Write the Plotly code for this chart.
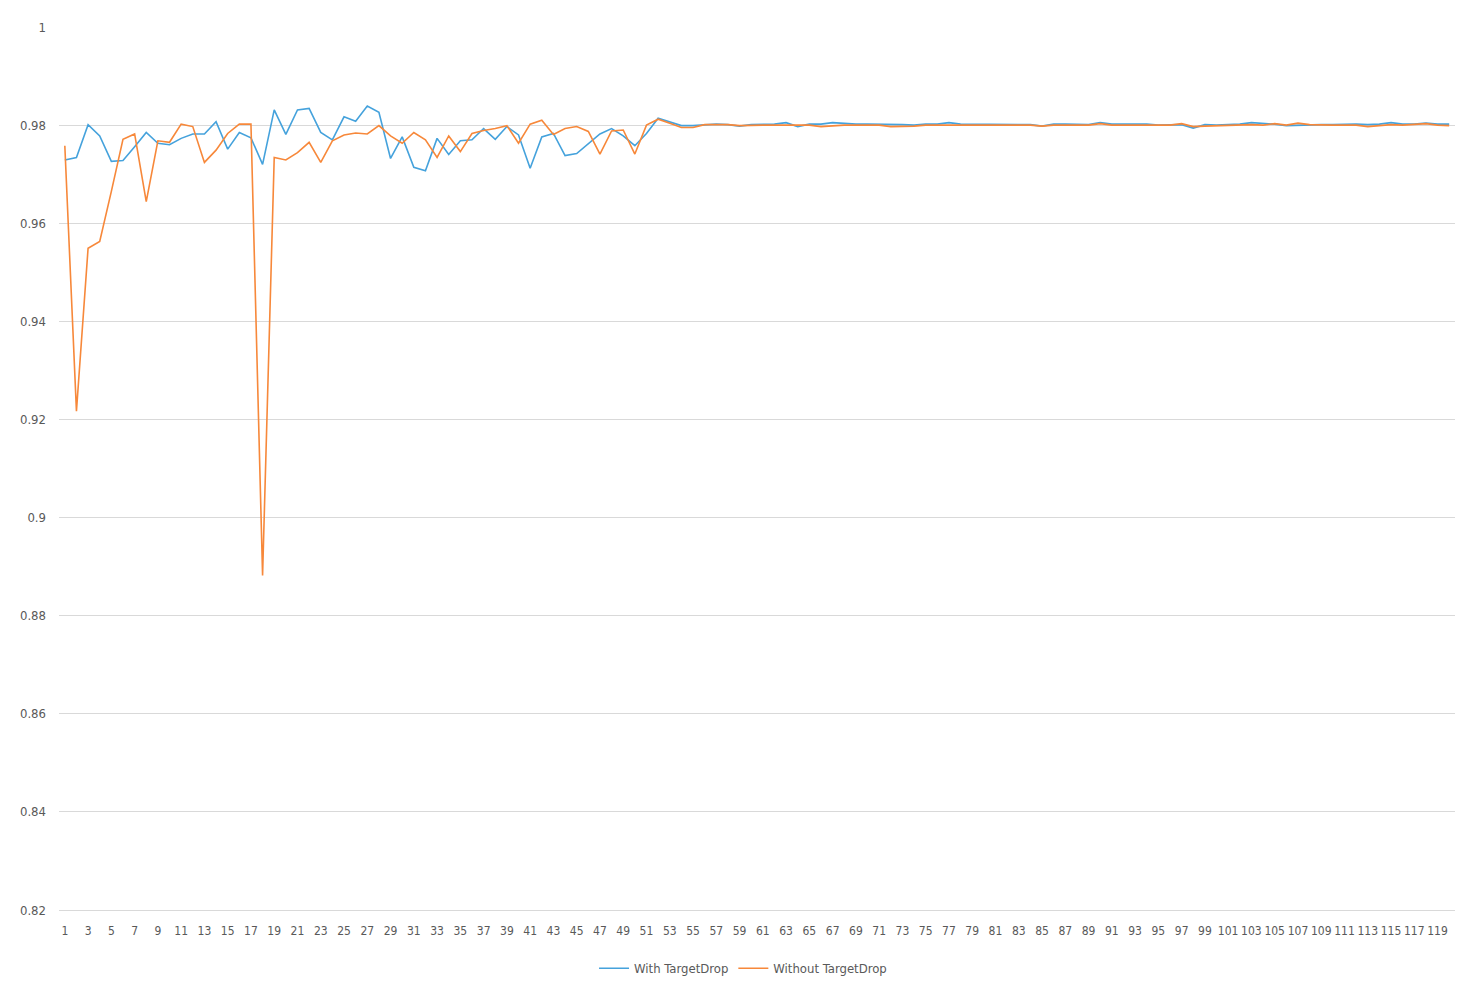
import plotly.graph_objects as go

# epochs 1..120
epochs = list(range(1, 121))

with_targetdrop = [
    0.9729, 0.9734, 0.9801, 0.9778, 0.9726, 0.9728, 0.9756, 0.9785, 0.9763, 0.9760,
    0.9773, 0.9782, 0.9782, 0.9807, 0.9751, 0.9785, 0.9774, 0.9720, 0.9831, 0.9781,
    0.9831, 0.9834, 0.9785, 0.9770, 0.9817, 0.9808, 0.9839, 0.9826, 0.9732, 0.9776,
    0.9714, 0.9707, 0.9773, 0.9740, 0.9768, 0.9770, 0.9793, 0.9771, 0.9797, 0.9780,
    0.9712, 0.9776, 0.9783, 0.9738, 0.9742, 0.9763, 0.9782, 0.9793, 0.9778, 0.9758,
    0.9783, 0.9814, 0.9806, 0.9799, 0.9799, 0.9801, 0.9802, 0.9801, 0.9798, 0.9801,
    0.9802, 0.9802, 0.9805, 0.9797, 0.9802, 0.9802, 0.9805, 0.9803, 0.9802, 0.9802,
    0.9802, 0.9802, 0.9801, 0.9800, 0.9802, 0.9802, 0.9805, 0.9802, 0.9802, 0.9801,
    0.9802, 0.9802, 0.9802, 0.9801, 0.9798, 0.9802, 0.9802, 0.9802, 0.9801, 0.9805,
    0.9802, 0.9802, 0.9802, 0.9802, 0.9800, 0.9800, 0.9801, 0.9794, 0.9801, 0.9800,
    0.9801, 0.9802, 0.9805, 0.9804, 0.9802, 0.9799, 0.9800, 0.9800, 0.9801, 0.9801,
    0.9802, 0.9802, 0.9801, 0.9802, 0.9805, 0.9802, 0.9802, 0.9804, 0.9802, 0.9802,
]

without_targetdrop = [
    0.9758, 0.9217, 0.9549, 0.9563, 0.9665, 0.9771, 0.9782, 0.9644, 0.9768, 0.9765,
    0.9802, 0.9797, 0.9724, 0.9749, 0.9783, 0.9802, 0.9802, 0.8882, 0.9734, 0.9729,
    0.9744, 0.9765, 0.9724, 0.9768, 0.9780, 0.9784, 0.9782, 0.9799, 0.9778, 0.9763,
    0.9785, 0.9770, 0.9734, 0.9778, 0.9746, 0.9783, 0.9789, 0.9793, 0.9799, 0.9763,
    0.9802, 0.9810, 0.9781, 0.9793, 0.9797, 0.9787, 0.9741, 0.9788, 0.9790, 0.9741,
    0.9800, 0.9812, 0.9804, 0.9795, 0.9795, 0.9801, 0.9801, 0.9801, 0.9799, 0.9800,
    0.9800, 0.9800, 0.9800, 0.9800, 0.9800, 0.9797, 0.9799, 0.9800, 0.9800, 0.9800,
    0.9800, 0.9797, 0.9797, 0.9798, 0.9800, 0.9800, 0.9800, 0.9800, 0.9800, 0.9800,
    0.9800, 0.9800, 0.9801, 0.9800, 0.9798, 0.9800, 0.9800, 0.9800, 0.9800, 0.9803,
    0.9800, 0.9800, 0.9800, 0.9800, 0.9800, 0.9800, 0.9803, 0.9797, 0.9798, 0.9799,
    0.9800, 0.9800, 0.9801, 0.9800, 0.9803, 0.9800, 0.9804, 0.9801, 0.9800, 0.9800,
    0.9800, 0.9800, 0.9797, 0.9799, 0.9801, 0.9800, 0.9801, 0.9803, 0.9800, 0.9799,
]

x_ticks = list(range(1, 120, 2))
y_ticks = [0.82, 0.84, 0.86, 0.88, 0.9, 0.92, 0.94, 0.96, 0.98, 1.0]
y_labels = ["0.82", "0.84", "0.86", "0.88", "0.9", "0.92", "0.94", "0.96", "0.98", "1"]

font_family = "Liberation Sans Narrow, DejaVu Sans Condensed, sans-serif"

fig = go.Figure()
fig.add_trace(go.Scatter(
    x=epochs, y=with_targetdrop, mode="lines", name="With TargetDrop",
    line=dict(color="#45a2dc", width=1.6),
))
fig.add_trace(go.Scatter(
    x=epochs, y=without_targetdrop, mode="lines", name="Without TargetDrop",
    line=dict(color="#f7883a", width=1.6),
))

# the page has an 8px body margin, so the figure is sized to fit inside it
fig.update_layout(
    width=1462, height=988,
    margin=dict(l=46, r=15, t=17, b=86),
    plot_bgcolor="white", paper_bgcolor="white",
    font=dict(family=font_family, size=13, color="#595959"),
    legend=dict(orientation="h", x=0.49, xanchor="center", y=-0.066, yanchor="middle",
                font=dict(size=13, color="#595959"), itemwidth=30),
    xaxis=dict(
        range=[0.5, 120.5], tickvals=x_ticks, ticktext=[str(v) for v in x_ticks],
        showgrid=False, zeroline=False, showline=True, linecolor="#d9d9d9",
        ticks="", tickangle=0, tickfont=dict(size=12), ticklabelstandoff=10,
    ),
    yaxis=dict(
        range=[0.82, 1.0], tickvals=y_ticks, ticktext=y_labels,
        showgrid=True, gridcolor="#d9d9d9", gridwidth=1, zeroline=False,
        showline=False, ticks="", ticklabelstandoff=12,
    ),
)

fig.write_html("out.html")
